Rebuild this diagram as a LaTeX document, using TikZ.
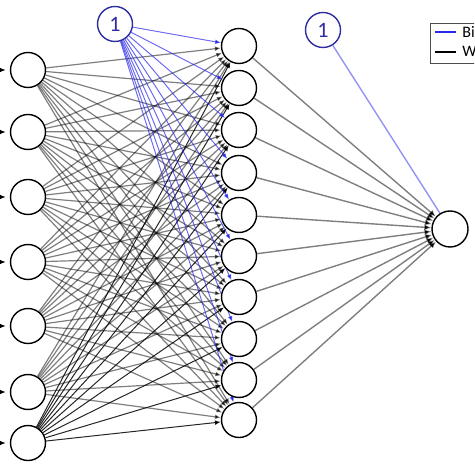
\documentclass[tikz,border=0pt]{standalone}
\usepackage{fontspec}
\setmainfont{Carlito}
\usetikzlibrary{arrows.meta,backgrounds}
\definecolor{biasnavy}{RGB}{45,45,160}
\definecolor{biasblue}{RGB}{40,40,235}
\begin{document}
\begin{tikzpicture}[x=0.5pt,y=-0.5pt,
  neuron/.style={circle,draw=black,line width=0.7pt,fill=white,minimum size=17.5pt,inner sep=0pt},
  biasnode/.style={circle,draw=biasnavy,line width=0.7pt,fill=white,minimum size=17.5pt,inner sep=0pt,text=biasnavy,font=\fontsize{11}{13}\selectfont},
  tip/.style={-{Latex[length=3pt,width=2.4pt]}},
  wedge/.style={tip,draw=black,draw opacity=0.5,fill opacity=0.8,line width=0.6pt},
  darkedge/.style={tip,draw=black,draw opacity=0.85,line width=0.5pt},
  biasedge/.style={tip,draw=biasblue,draw opacity=0.6,fill=biasblue,line width=0.5pt},
  hedge/.style={-{Latex[length=3.5pt,width=3pt]},draw=black,draw opacity=0.5,line width=0.7pt},
  obias/.style={draw=biasblue,draw opacity=0.5,line width=0.7pt},
  inarrow/.style={tip,draw=black,line width=0.7pt,shorten >=2pt},
  legbox/.style={draw=black!70,line width=0.4pt,fill=white,anchor=north west,inner sep=0pt,minimum width=40pt,minimum height=20pt},
  legtext/.style={anchor=west,inner sep=0pt,font=\fontsize{8}{9}\selectfont}
]
\useasboundingbox (0,0) rectangle (474,474);
\clip (0,0) rectangle (474,474);
% input layer
\foreach \i/\y in {1/70,2/132,3/197,4/262,5/326,6/392,7/443}{
  \node[neuron] (i\i) at (28,\y) {};
  \coordinate (s\i) at (-20,\y);
}
% hidden layer
\foreach \j/\y in {1/46,2/88,3/130,4/173,5/215,6/256,7/297,8/339,9/380,10/420}{
  \node[neuron] (h\j) at (239,\y) {};
}
% output
\node[neuron,minimum size=18pt] (o) at (450,229) {};
% bias nodes
\node[biasnode] (b1) at (115,24) {1};
\node[biasnode] (b2) at (323,30) {1};
% legend
\node[legbox] (leg) at (430,23) {};
\coordinate (lb1) at (435,32); \coordinate (lb2) at (456,32);
\coordinate (lw1) at (435,52); \coordinate (lw2) at (456,52);
\draw[biasblue,line width=1pt] (lb1) -- (lb2);
\draw[black,line width=1pt] (lw1) -- (lw2);
\node[legtext] (tb) at (462,32) {Bias};
\node[legtext] (tw) at (462,52) {Weight};
\begin{scope}[on background layer]
  \foreach \i in {1,...,6}{
    \foreach \j in {1,...,10}{
      \draw[wedge] (i\i) -- (h\j);
    }
  }
  \foreach \j in {1,...,10}{
    \draw[darkedge] (i7) -- (h\j);
    \draw[biasedge] (b1) -- (h\j);
    \draw[hedge] (h\j) -- (o);
  }
  \draw[obias] (b2) -- (o);
  \foreach \i in {1,...,7}{
    \draw[inarrow] (s\i) -- (i\i);
  }
\end{scope}
\end{tikzpicture}
\end{document}
